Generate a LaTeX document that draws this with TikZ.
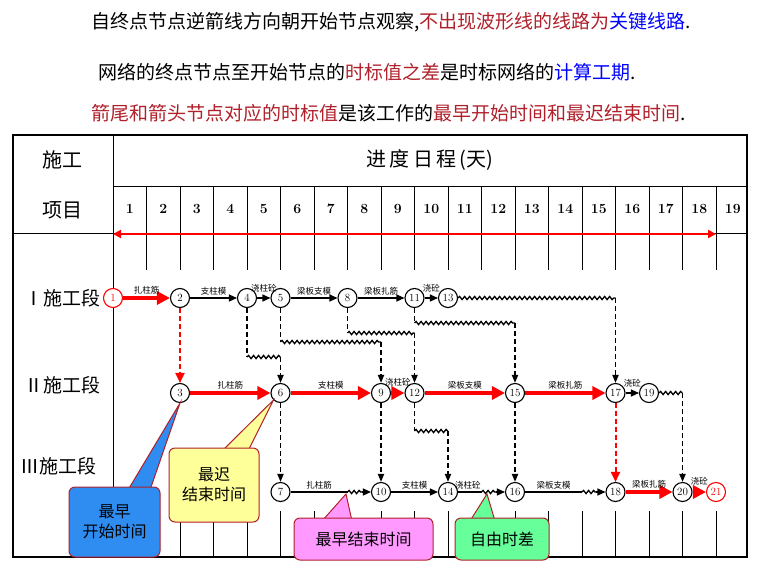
\documentclass[tikz,border=0pt]{standalone}
\usepackage{fontspec}
\newfontfamily\cjk{Noto Sans CJK SC}
\usetikzlibrary{arrows.meta,decorations.pathmorphing}
\definecolor{dred}{HTML}{B0202A}
\definecolor{cblue}{HTML}{2F8CF0}
\definecolor{cyel}{HTML}{FFFF99}
\definecolor{cpink}{HTML}{FF99FF}
\definecolor{cgreen}{HTML}{66FF99}
\begin{document}
\begin{tikzpicture}[x=1pt,y=-1pt,
 nd/.style={circle,draw,line width=1.1pt,fill=white,minimum size=19pt,inner sep=0pt,font=\fontsize{11}{11}\selectfont},
 rnd/.style={nd,draw=red,text=red},
 rarr/.style={red,line width=4pt,-{Triangle[length=13pt,width=13pt]}},
 barr/.style={black,line width=1.3pt,-{Triangle[length=8pt,width=7pt]}},
 bln/.style={black,line width=1.3pt},
 dsh/.style={black,line width=1.8pt,dash pattern=on 5pt off 3pt},
 rdsh/.style={red,line width=2pt,dash pattern=on 5pt off 3pt},
 wav/.style={black,line width=1.3pt,decorate,decoration={snake,amplitude=1.6pt,segment length=5pt}},
 lab/.style={font=\cjk\fontsize{8.5}{8.5}\selectfont,above,inner sep=2pt,text=black},
 sec/.style={font=\cjk\fontsize{19}{19}\selectfont},
 bub/.style={draw=dred,line width=1pt,rounded corners=6pt,font=\cjk\fontsize{16}{20}\selectfont,align=center}
]
\useasboundingbox (0,0) rectangle (760,570);
\node[anchor=west,font=\cjk\fontsize{19}{19}\selectfont] (t1) at (88,22) {自终点节点逆箭线方向朝开始节点观察,\textcolor{dred}{不出现波形线的线路为}\textcolor{blue}{关键线路}.};
\node[anchor=west,font=\cjk\fontsize{19}{19}\selectfont] (t2) at (95,72) {网络的终点节点至开始节点的\textcolor{dred}{时标值之差}是时标网络的\textcolor{blue}{计算工期}.};
\node[anchor=west,font=\cjk\fontsize{19}{19}\selectfont] (t3) at (88,113) {\textcolor{dred}{箭尾和箭头节点对应的时标值}是该工作的\textcolor{dred}{最早开始时间和最迟结束时间}.};
\draw[line width=1.5pt] (13,135) rectangle (747,557);
\draw[line width=1pt] (113,135) -- (113,557);
\draw[line width=0.8pt] (113,186) -- (747,186);
\draw[line width=0.8pt] (13,233) -- (747,233);
\foreach \k in {1,...,18}{
 \draw[line width=0.8pt] ({113+33.5*\k},186) -- ({113+33.5*\k},270);
 \draw[line width=0.8pt] ({113+33.5*\k},511) -- ({113+33.5*\k},557);
}
\foreach \k in {1,...,19}{
 \node[font=\bfseries\fontsize{14}{14}\selectfont] (d\k) at ({113+33.5*\k-16.75},209) {\k};
}
\node[font=\cjk\fontsize{20}{20}\selectfont] (h1) at (62,160) {施工};
\node[font=\cjk\fontsize{20}{20}\selectfont] (h2) at (62,210) {项目};
\node[font=\cjk\fontsize{20}{20}\selectfont] (h3) at (430,160) {进\,度\,日\,程\,(天)};
\coordinate (al) at (113,234); \coordinate (ar) at (716,234);
\draw[red,line width=2.2pt,{Triangle[length=8pt,width=8pt]}-{Triangle[length=8pt,width=8pt]}] (al) -- (ar);
\node[sec] (s1) at (62,298) {Ⅰ施工段};
\node[sec] (s2) at (62,385) {Ⅱ施工段};
\node[sec] (s3) at (58,466) {Ⅲ施工段};
\def\ya{298}\def\yb{393}\def\yc{492}
\node[rnd] (n1) at (113,\ya) {1};
\foreach \n/\t in {2/2,4/4,5/5,8/7,11/9,13/10}{\node[nd] (n\n) at ({113+33.5*\t},\ya) {\n};}
\foreach \n/\t in {3/2,6/5,9/8,12/9,15/12,17/15,19/16}{\node[nd] (n\n) at ({113+33.5*\t},\yb) {\n};}
\foreach \n/\t in {7/5,10/8,14/10,16/12,18/15,20/17}{\node[nd] (n\n) at ({113+33.5*\t},\yc) {\n};}
\node[rnd] (n21) at ({113+33.5*18},\yc) {21};
\draw[rarr] (n1) -- node[lab]{扎柱筋} (n2);
\draw[barr] (n2) -- node[lab]{支柱模} (n4);
\draw[barr] (n4) -- node[lab,yshift=3pt]{浇柱砼} (n5);
\draw[barr] (n5) -- node[lab]{梁板支模} (n8);
\draw[barr] (n8) -- node[lab]{梁板扎筋} (n11);
\draw[barr] (n11) -- node[lab,yshift=3pt]{浇砼} (n13);
\draw[rarr] (n3) -- node[lab]{扎柱筋} (n6);
\draw[rarr] (n6) -- node[lab]{支柱模} (n9);
\draw[rarr] (n9) -- node[lab,yshift=3pt]{浇柱砼} (n12);
\draw[rarr] (n12) -- node[lab]{梁板支模} (n15);
\draw[rarr] (n15) -- node[lab]{梁板扎筋} (n17);
\draw[barr] (n17) -- node[lab,yshift=3pt]{浇砼} (n19);
\coordinate (w7) at ({113+33.5*7},\yc);
\coordinate (w14) at ({113+33.5*11},\yc);
\coordinate (w16) at ({113+33.5*14},\yc);
\draw[bln] (n7) -- node[lab]{扎柱筋} (w7);
\draw[wav] (w7) -- ([xshift=-8pt]n10.west);
\draw[barr] ([xshift=-9pt]n10.west) -- (n10);
\draw[barr] (n10) -- node[lab]{支柱模} (n14);
\draw[bln] (n14) -- node[lab,xshift=-2pt]{浇柱砼} (w14);
\draw[wav] (w14) -- ([xshift=-8pt]n16.west);
\draw[barr] ([xshift=-9pt]n16.west) -- (n16);
\draw[bln] (n16) -- node[lab]{梁板支模} (w16);
\draw[wav] (w16) -- ([xshift=-8pt]n18.west);
\draw[barr] ([xshift=-9pt]n18.west) -- (n18);
\draw[rarr] (n18) -- node[lab]{梁板扎筋} (n20);
\draw[rarr] (n20) -- node[lab,yshift=3pt]{浇砼} (n21);
\draw[rdsh,-{Triangle[length=10pt,width=9pt]}] (n2) -- (n3);
\draw[rdsh,-{Triangle[length=10pt,width=9pt]}] (n17) -- (n18);
\draw[dsh,-{Triangle[length=8pt,width=6pt]}] (n6) -- (n7);
\draw[dsh,-{Triangle[length=8pt,width=6pt]}] (n9) -- (n10);
\draw[dsh,-{Triangle[length=8pt,width=6pt]}] (n15) -- (n16);
\foreach \a/\b/\y in {4/6/357,5/9/342,8/12/333,11/15/323,12/14/431}{
 \coordinate (p\a) at (n\a |- 0,\y);
 \coordinate (q\a) at (n\b |- 0,\y);
 \draw[dsh] (n\a) -- (p\a);
 \draw[wav] (p\a) -- (q\a);
 \draw[dsh,-{Triangle[length=8pt,width=6pt]}] (q\a) -- (n\b);
}
\coordinate (q13) at (n17 |- n13);
\draw[wav] (n13) -- (q13);
\draw[dsh,-{Triangle[length=8pt,width=6pt]}] (q13) -- (n17);
\coordinate (q19) at (n20 |- n19);
\draw[wav] (n19) -- (q19);
\draw[dsh,-{Triangle[length=8pt,width=6pt]}] (q19) -- (n20);
\coordinate (c1) at (n3.south);
\filldraw[fill=cblue,draw=dred,line width=1pt] (c1) -- (150,490) -- (128,490) -- cycle;
\node[bub,fill=cblue,minimum width=91pt,minimum height=70pt] (b1) at (114.5,522) {最早\\开始时间};
\coordinate (c2) at (n6.south west);
\filldraw[fill=cyel,draw=dred,line width=1pt] (c2) -- (248,451) -- (222,451) -- cycle;
\node[bub,fill=cyel,minimum width=90pt,minimum height=74pt] (b2) at (214,485) {最迟\\结束时间};
\coordinate (c3) at (346,494);
\filldraw[fill=cpink,draw=dred,line width=1pt] (c3) -- (352,521) -- (322,521) -- cycle;
\node[bub,fill=cpink,minimum width=139pt,minimum height=42pt] (b3) at (363.5,539) {最早结束时间};
\coordinate (c4) at (487,494);
\filldraw[fill=cgreen,draw=dred,line width=1pt] (c4) -- (495,521) -- (470,521) -- cycle;
\node[bub,fill=cgreen,minimum width=94pt,minimum height=42pt] (b4) at (502,539) {自由时差};
\end{tikzpicture}
\end{document}
